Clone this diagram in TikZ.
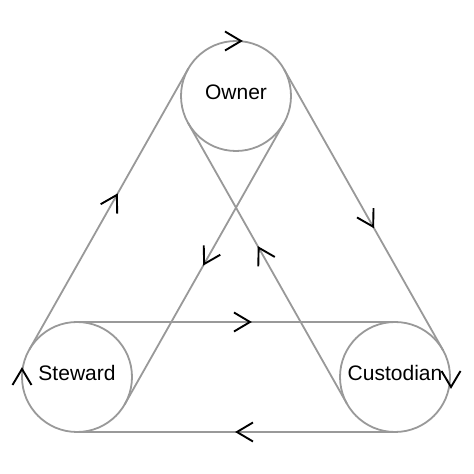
\documentclass[tikz,border=0pt]{standalone}
\usepackage{fontspec}
\setmainfont{Liberation Sans}
\tikzset{
    role/.style={circle, draw=black!40, line width=1.8pt, minimum size=110pt, inner sep=0pt, outer sep=0pt,
        text height=15pt, text depth=7pt, font=\fontsize{21}{25}\selectfont},
    belt/.style={draw=black!40, line width=1.8pt},
    barb/.pic={\draw[black, line width=1.9pt] (-16,9.5) -- (0,0) -- (-16,-9.5);}
}

\begin{document}
\begin{tikzpicture}[x=1pt, y=1pt]
    % Frame
    \useasboundingbox (0,0) rectangle (474,474);
    \fill[white] (0,0) rectangle (474,474);

    % Roles
    \node[role] (owner) at (236,378) {Owner};
    \node[role] (steward) at (77,97) {Steward};
    \node[role] (custodian) at (395,97) {Custodian};

    % Outer belt
    \draw[belt] (steward.150.5) -- pic[pos=0.55, sloped, allow upside down] {barb} (owner.150.5);
    \draw[belt] (owner.29.5) -- pic[pos=0.56, sloped, allow upside down] {barb} (custodian.29.5);
    \draw[belt] (custodian.270) -- pic[pos=0.497, sloped, allow upside down] {barb} (steward.270);

    % Inner belt
    \draw[belt] (steward.90) -- pic[pos=0.544, sloped, allow upside down] {barb} (custodian.90);
    \draw[belt] (custodian.209.5) -- pic[pos=0.555, sloped, allow upside down] {barb} (owner.209.5);
    \draw[belt] (owner.330.5) -- pic[pos=0.5, sloped, allow upside down] {barb} (steward.330.5);

    % Turns round the roles
    \pic at (241,433) {barb};
    \pic[rotate=90] at (22,105) {barb};
    \pic[rotate=-90] at (451,87) {barb};
\end{tikzpicture}
\end{document}
